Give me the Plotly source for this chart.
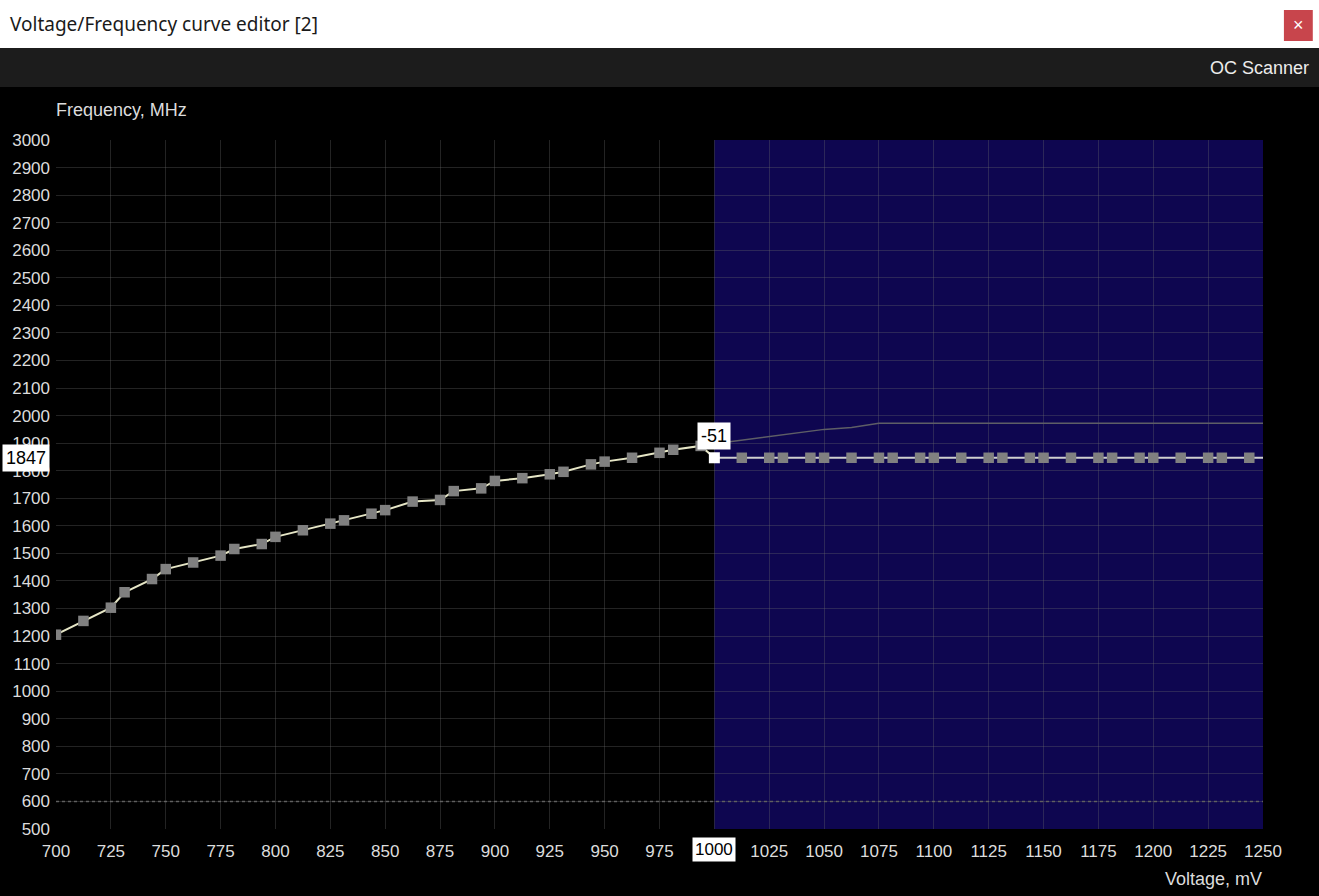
import plotly.graph_objects as go

# ── data ────────────────────────────────────────────────────────────
# current V/F curve up to the selected point (mV, MHz)
CURVE_MV = [700, 712.5, 725, 731.25, 743.75, 750, 762.5, 775, 781.25, 793.75,
            800, 812.5, 825, 831.25, 843.75, 850, 862.5, 875, 881.25, 893.75,
            900, 912.5, 925, 931.25, 943.75, 950, 962.5, 975, 981.25, 993.75]
CURVE_MHZ = [1205, 1255, 1303, 1359, 1407, 1443, 1467, 1492, 1516, 1534,
             1560, 1584, 1608, 1620, 1644, 1657, 1688, 1694, 1726, 1736,
             1763, 1773, 1787, 1796, 1823, 1833, 1847, 1865, 1876, 1890]

# selected point
SEL_MV = 1000
SEL_MHZ = 1847
SEL_OFFSET = "-51"

# flattened points above the selected voltage
FLAT_MV = [1012.5, 1025, 1031.25, 1043.75, 1050, 1062.5, 1075, 1081.25, 1093.75,
           1100, 1112.5, 1125, 1131.25, 1143.75, 1150, 1162.5, 1175, 1181.25,
           1193.75, 1200, 1212.5, 1225, 1231.25, 1243.75]
FLAT_MHZ = [1847] * len(FLAT_MV)
FLAT_LINE_MV = [1000, 1250]
FLAT_LINE_MHZ = [1847, 1847]

# original (unlocked) curve, drawn faint
ORIG_MV = [1000, 1012.5, 1025, 1031.25, 1043.75, 1050, 1062.5, 1075, 1250]
ORIG_MHZ = [1898, 1911, 1923, 1931, 1945, 1950, 1957, 1972, 1972]

X_TICKS = [700, 725, 750, 775, 800, 825, 850, 875, 900, 925, 950, 975, 1000,
           1025, 1050, 1075, 1100, 1125, 1150, 1175, 1200, 1225, 1250]
Y_TICKS = [500, 600, 700, 800, 900, 1000, 1100, 1200, 1300, 1400, 1500, 1600,
           1700, 1800, 1900, 2000, 2100, 2200, 2300, 2400, 2500, 2600, 2700,
           2800, 2900, 3000]
LIMIT_MHZ = 600

# ── geometry ────────────────────────────────────────────────────────
W, H = 1319, 896
L, R, T, B = 51, 56, 140, 67
PW, PH = W - L - R, H - T - B


def px_x(px):
    return (px - L) / PW


def px_y(py):
    return (H - B - py) / PH


TICK_FONT = dict(family="Liberation Sans", size=17, color="#dcdcdc")
LABEL_FONT = dict(family="Liberation Sans", size=18, color="#000000")

fig = go.Figure()

fig.add_trace(go.Scatter(
    x=ORIG_MV, y=ORIG_MHZ, mode="lines",
    line=dict(color="#5e5e66", width=1.5), hoverinfo="skip",
))
fig.add_trace(go.Scatter(
    x=FLAT_LINE_MV, y=FLAT_LINE_MHZ, mode="lines",
    line=dict(color="#cfcfcf", width=2), hoverinfo="skip",
))
fig.add_trace(go.Scatter(
    x=CURVE_MV + [SEL_MV], y=CURVE_MHZ + [SEL_MHZ], mode="lines",
    line=dict(color="#e6e6c6", width=2), hoverinfo="skip",
))
fig.add_trace(go.Scatter(
    x=CURVE_MV + FLAT_MV, y=CURVE_MHZ + FLAT_MHZ, mode="markers",
    marker=dict(symbol="square", size=10.5, color="#808080"),
))
fig.add_trace(go.Scatter(
    x=[SEL_MV], y=[SEL_MHZ], mode="markers",
    marker=dict(symbol="square", size=11, color="#ffffff"),
))

shapes = [
    # locked region
    dict(type="rect", xref="x", yref="paper", x0=SEL_MV, x1=1250, y0=0, y1=1,
         fillcolor="#0e0650", line=dict(width=0), layer="below"),
    # 600 MHz dotted line
    dict(type="line", xref="paper", yref="y", x0=0, x1=1, y0=LIMIT_MHZ, y1=LIMIT_MHZ,
         line=dict(color="#5a5a5a", width=1.5, dash="dot"), layer="below"),
    # window title bar
    dict(type="rect", xref="paper", yref="paper", x0=px_x(-10), x1=px_x(W + 10),
         y0=px_y(48), y1=px_y(-10), fillcolor="#ffffff", line=dict(width=0)),
    # toolbar
    dict(type="rect", xref="paper", yref="paper", x0=px_x(-10), x1=px_x(W + 10),
         y0=px_y(87), y1=px_y(48), fillcolor="#1c1c1c", line=dict(width=0)),
    # close button
    dict(type="rect", xref="paper", yref="paper", x0=px_x(1284), x1=px_x(1313),
         y0=px_y(41), y1=px_y(10), fillcolor="#c8454c", line=dict(width=0)),
]

annotations = [
    dict(text="Voltage/Frequency curve editor [2]", xref="paper", yref="paper",
         x=px_x(3), y=px_y(24), xanchor="left", yanchor="middle", showarrow=False,
         font=dict(family="Noto Sans", size=19, color="#1a1a1a")),
    dict(text="×", xref="paper", yref="paper", x=px_x(1298.5), y=px_y(25),
         xanchor="center", yanchor="middle", showarrow=False,
         font=dict(family="Liberation Sans", size=18, color="#ffffff")),
    dict(text="OC Scanner", xref="paper", yref="paper", x=px_x(1311), y=px_y(68),
         xanchor="right", yanchor="middle", showarrow=False,
         font=dict(family="Liberation Sans", size=18, color="#ececec")),
    dict(text="Frequency, MHz", xref="paper", yref="paper", x=px_x(49), y=px_y(110),
         xanchor="left", yanchor="middle", showarrow=False,
         font=dict(family="Liberation Sans", size=18, color="#dcdcdc")),
    dict(text="Voltage, mV", xref="paper", yref="paper", x=px_x(1264), y=px_y(879),
         xanchor="right", yanchor="middle", showarrow=False,
         font=dict(family="Liberation Sans", size=18, color="#dcdcdc")),
    # selected frequency on the y axis
    dict(text=str(SEL_MHZ), xref="paper", yref="y", x=px_x(45), y=SEL_MHZ,
         xanchor="right", yanchor="middle", showarrow=False, bgcolor="#ffffff",
         borderpad=3, font=LABEL_FONT),
    # selected voltage on the x axis
    dict(text=str(SEL_MV), xref="x", yref="paper", x=SEL_MV, y=px_y(849),
         xanchor="center", yanchor="middle", showarrow=False, bgcolor="#ffffff",
         borderpad=2, font=dict(family="Liberation Sans", size=17, color="#000000")),
    # offset label
    dict(text=SEL_OFFSET, xref="x", yref="y", x=SEL_MV, y=SEL_MHZ, yshift=22,
         xanchor="center", yanchor="middle", showarrow=False, bgcolor="#ffffff",
         borderpad=3, font=LABEL_FONT),
]

fig.update_xaxes(
    range=[700, 1250], tickvals=X_TICKS, ticktext=[str(v) for v in X_TICKS],
    showgrid=True, gridcolor="rgba(110,110,110,0.32)", gridwidth=1,
    zeroline=False, showline=False, ticks="", tickfont=TICK_FONT,
    ticklabelstandoff=10,
)
fig.update_yaxes(
    range=[500, 3000], tickvals=Y_TICKS, ticktext=[str(v) for v in Y_TICKS],
    showgrid=True, gridcolor="rgba(110,110,110,0.32)", gridwidth=1,
    zeroline=False, showline=False, ticks="", tickfont=TICK_FONT,
    ticklabelstandoff=5,
)

fig.update_layout(
    width=W, height=H,
    margin=dict(l=L, r=R, t=T, b=B, pad=0),
    paper_bgcolor="#000000", plot_bgcolor="#000000",
    showlegend=False,
    shapes=shapes,
    annotations=annotations,
)

fig.write_html(
    "out.html",
    config={"displayModeBar": False},
    post_script="document.body.style.margin='0';document.body.style.overflow='hidden';",
)
